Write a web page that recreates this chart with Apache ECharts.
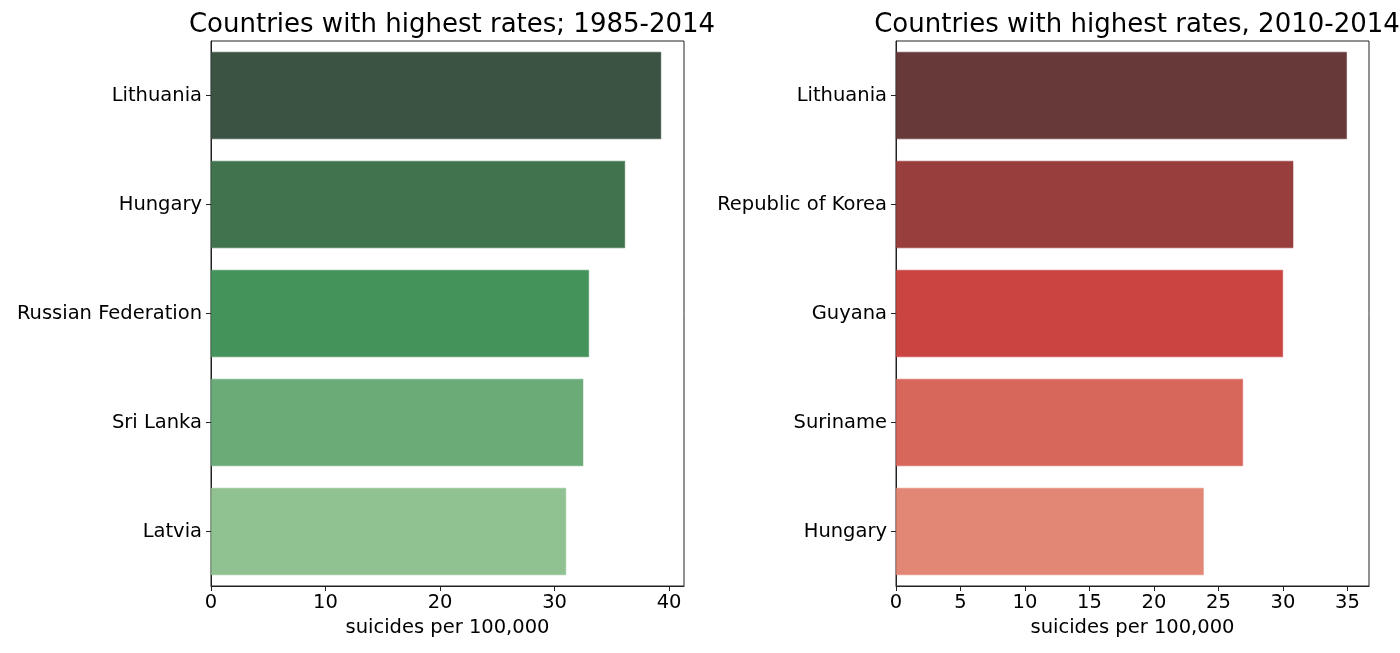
<!DOCTYPE html>
<html>
<head>
<meta charset="utf-8">
<script src="https://cdn.jsdelivr.net/npm/echarts@6/dist/echarts.min.js"></script>
<style>
  html, body { margin: 0; padding: 0; background: #fff; }
  #chart { width: 1400px; height: 653px; }
</style>
</head>
<body>
<div id="chart"></div>
<script>
// left panel: 1985-2014
const countriesAll = ["Lithuania", "Hungary", "Russian Federation", "Sri Lanka", "Latvia"];
const ratesAll = [39.3, 36.15, 33.0, 32.5, 31.0];
const colorsAll = ["#3b5343", "#40744e", "#44935a", "#6aab78", "#90c191"];
const ticksAll = [0, 10, 20, 30, 40];

// right panel: 2010-2014
const countriesRecent = ["Lithuania", "Republic of Korea", "Guyana", "Suriname", "Hungary"];
const ratesRecent = [34.95, 30.8, 30.0, 26.9, 23.85];
const colorsRecent = ["#673939", "#983e3c", "#ca4541", "#d7665b", "#e28775"];
const ticksRecent = [0, 5, 10, 15, 20, 25, 30, 35];

const font = "'DejaVu Sans', sans-serif";
const ink = "#000";
const fs = 19.5;

const makeX = (gridIndex, max, interval) => ({
  type: "value",
  gridIndex: gridIndex,
  min: 0,
  max: max,
  interval: interval,
  name: "suicides per 100,000",
  nameLocation: "middle",
  nameGap: 32,
  nameTextStyle: { color: ink, fontSize: fs, fontFamily: font },
  axisLine: { show: true, lineStyle: { color: "#222", width: 1 } },
  axisTick: { show: true, length: 5, lineStyle: { color: "#222" } },
  axisLabel: {
    color: ink, fontSize: fs, fontFamily: font, margin: 7,
    showMaxLabel: false,
  },
  splitLine: { show: false },
});

const makeY = (gridIndex, cats) => ({
  type: "category",
  gridIndex: gridIndex,
  data: cats,
  inverse: true,
  axisLine: { show: true, lineStyle: { color: "#222", width: 1 } },
  axisTick: { show: true, alignWithLabel: true, length: 5, lineStyle: { color: "#222" } },
  axisLabel: { color: ink, fontSize: fs, fontFamily: font, margin: 9 },
});

const makeData = (vals, cols) =>
  vals.map((v, i) => ({
    value: v,
    itemStyle: { color: cols[i], borderColor: cols[i], borderWidth: 0.5 },
  }));

var myChart = echarts.init(document.getElementById("chart"));
var option = {
  animation: false,
  title: [
    {
      text: "Countries with highest rates; 1985-2014",
      left: 447, top: 7, textAlign: "center",
      textStyle: { color: ink, fontSize: 26, fontWeight: "normal", fontFamily: font },
    },
    {
      text: "Countries with highest rates, 2010-2014",
      left: 1132, top: 7, textAlign: "center",
      textStyle: { color: ink, fontSize: 26, fontWeight: "normal", fontFamily: font },
    },
  ],
  grid: [
    { left: 211, top: 41, width: 473, height: 545, show: true, borderColor: "#222", borderWidth: 1, backgroundColor: "#fff" },
    { left: 896, top: 41, width: 473, height: 545, show: true, borderColor: "#222", borderWidth: 1, backgroundColor: "#fff" },
  ],
  xAxis: [
    makeX(0, 41.3, 10),
    makeX(1, 36.67, 5),
  ],
  yAxis: [
    makeY(0, countriesAll),
    makeY(1, countriesRecent),
  ],
  series: [
    {
      type: "bar", xAxisIndex: 0, yAxisIndex: 0,
      barWidth: "80%",
      data: makeData(ratesAll, colorsAll),
    },
    {
      type: "bar", xAxisIndex: 1, yAxisIndex: 1,
      barWidth: "80%",
      data: makeData(ratesRecent, colorsRecent),
    },
  ],
};
myChart.setOption(option);
</script>
</body>
</html>
